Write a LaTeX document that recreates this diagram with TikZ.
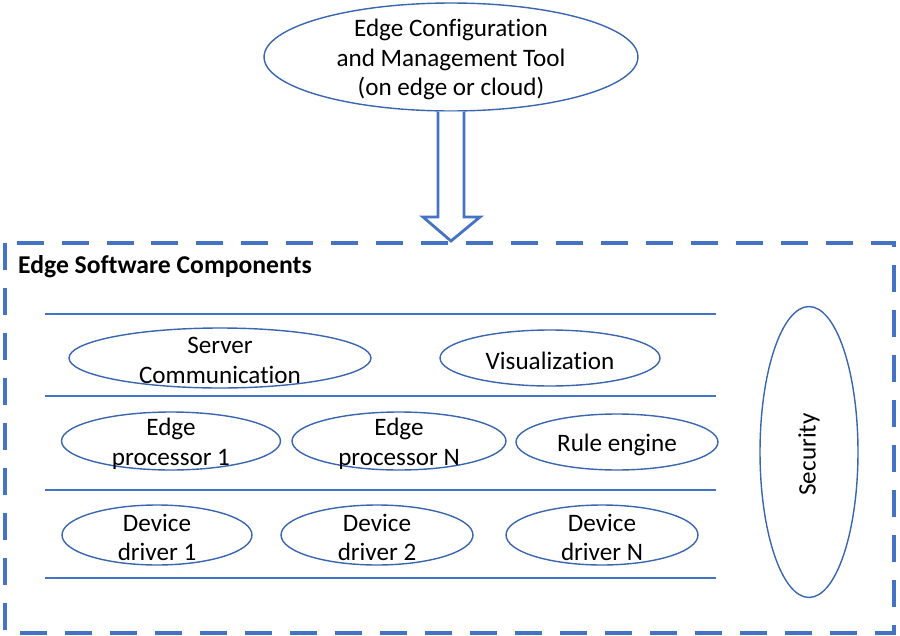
\documentclass[tikz,border=0pt]{standalone}
\usepackage{fontspec}
\setmainfont{Carlito}[Ligatures=CommonOff]
\usetikzlibrary{shapes.geometric,calc}

\definecolor{edgeblue}{HTML}{4472C4}
\definecolor{ringblue}{HTML}{3A66B0}

\tikzset{
  comp/.style={ellipse, draw=ringblue, line width=0.8pt, inner sep=0pt},
  layer/.style={edgeblue, line width=1.7pt},
  boxline/.style={edgeblue, line width=2.2pt, dash pattern=on 0.54cm off 0.36cm},
  blockarrow/.style={draw=edgeblue, fill=white, line width=1.6pt, line join=miter},
  every label/.append style={yshift=-0.05cm},
}

\begin{document}
\begin{tikzpicture}[x=0.02cm, y=-0.02cm, font=\fontsize{14.3}{17}\selectfont]
    \useasboundingbox (0,0) rectangle (900,636);

    % configuration tool on top
    \node[comp, minimum width=7.48cm, minimum height=2.16cm,
          label={[align=center]center:Edge Configuration\\and Management Tool\\(on edge or cloud)}]
          (tool) at (451,57) {};

    % the dashed frame
    \draw[boxline] (5,243) rectangle (894,633);
    \coordinate (tip) at (451,241);
    \node[anchor=west, font=\fontsize{14.6}{17}\selectfont\bfseries] (title) at (12,267) {Edge Software Components};

    % block arrow from the tool down into the frame
    \draw[blockarrow] ($(tool.south)+(-13,0)$) -- ($(tip)+(-13,-24)$) -- ($(tip)+(-28,-24)$)
        -- (tip) -- ($(tip)+(29,-24)$) -- ($(tip)+(13,-24)$) -- ($(tool.south)+(13,0)$);

    % layer separators
    \foreach \ly in {314,396,490,578}
        \draw[layer] (45,\ly) -- (716,\ly);

    % top layer
    \node[comp, minimum width=6.04cm, minimum height=1.2cm,
          label={[align=center]center:Server\\Communication}] (srv) at (220,358) {};
    \node[comp, minimum width=4.4cm, minimum height=1.12cm,
          label=center:Visualization] (vis) at (550,358) {};

    % processing layer
    \node[comp, minimum width=4.38cm, minimum height=1.16cm,
          label={[align=center]center:Edge\\processor 1}] (proc1) at (171,441) {};
    \node[comp, minimum width=4.28cm, minimum height=1.16cm,
          label={[align=center]center:Edge\\processor N}] (procN) at (399,441) {};
    \node[comp, minimum width=4.04cm, minimum height=1.12cm,
          label=center:Rule engine] (rules) at (617,442) {};

    % driver layer
    \node[comp, minimum width=3.8cm, minimum height=1.2cm,
          label={[align=center]center:Device\\driver 1}] (drv1) at (157,535) {};
    \node[comp, minimum width=3.84cm, minimum height=1.2cm,
          label={[align=center]center:Device\\driver 2}] (drv2) at (377,535) {};
    \node[comp, minimum width=3.84cm, minimum height=1.2cm,
          label={[align=center]center:Device\\driver N}] (drvN) at (602,535) {};

    % security across all layers
    \node[comp, minimum width=1.96cm, minimum height=5.82cm,
          label={[rotate=90]center:Security}] (sec) at (809,452) {};
\end{tikzpicture}
\end{document}
